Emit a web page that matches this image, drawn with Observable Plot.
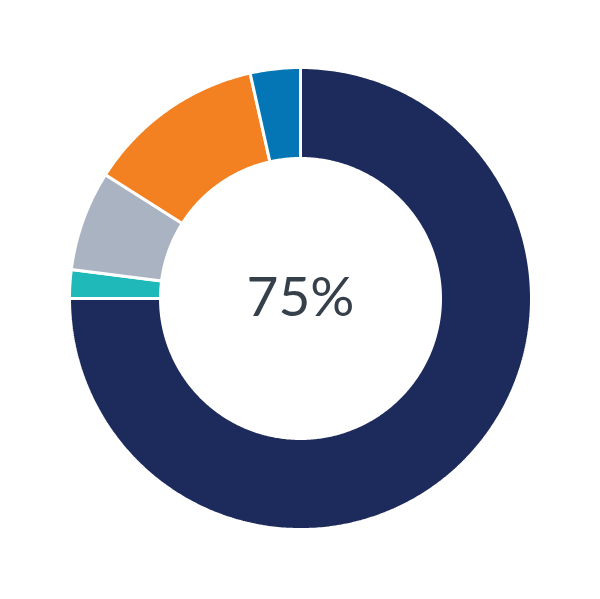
<!DOCTYPE html>
<html>
<head>
<meta charset="utf-8">
<script src="https://cdn.jsdelivr.net/npm/d3@7"></script>
<script src="https://cdn.jsdelivr.net/npm/@observablehq/plot@0.6"></script>
<style>
  html, body { margin: 0; padding: 0; background: #fff; }
</style>
</head>
<body>
<div id="chart"></div>
<script>
// Data (clockwise from 12 o'clock)
const categories = ["A", "B", "C", "D", "E"];
const values = [75, 2, 7, 12.5, 3.5];
const colors = ["#1c2b5b", "#1fb9b9", "#a9b3c2", "#f38021", "#0476b6"];
const centerLabel = "75%";

const outerR = 231;
const innerR = 140;

const pie = d3.pie().sort(null).value(d => d.value)(
  categories.map((c, i) => ({category: c, value: values[i], color: colors[i]}))
);

// Build polygon outline for each slice from pie angles
const pts = [];
pie.forEach(s => {
  const n = Math.max(8, Math.ceil((s.endAngle - s.startAngle) / 0.01));
  for (let k = 0; k <= n; k++) {
    const a = s.startAngle + (s.endAngle - s.startAngle) * k / n;
    pts.push({category: s.data.category, color: s.data.color, x: outerR * Math.sin(a), y: outerR * Math.cos(a)});
  }
  for (let k = n; k >= 0; k--) {
    const a = s.startAngle + (s.endAngle - s.startAngle) * k / n;
    pts.push({category: s.data.category, color: s.data.color, x: innerR * Math.sin(a), y: innerR * Math.cos(a)});
  }
});

const chart = Plot.plot({
  width: 600,
  height: 599,
  margin: 0,
  x: {domain: [-300, 300], axis: null},
  y: {domain: [-301, 298], axis: null},
  color: {type: "identity"},
  style: {background: "#fff"},
  marks: [
    Plot.line(pts, {
      x: "x", y: "y", z: "category",
      fill: "color", stroke: "#ffffff", strokeWidth: 3,
      curve: "linear-closed", strokeLinejoin: "miter"
    }),
    Plot.text([centerLabel], {
      x: [0], y: [0], text: d => d,
      fontSize: 55, fontFamily: "Lato", fontWeight: 400,
      fill: "#36404b", dy: 0
    })
  ]
});
document.getElementById("chart").appendChild(chart);
</script>
</body>
</html>
